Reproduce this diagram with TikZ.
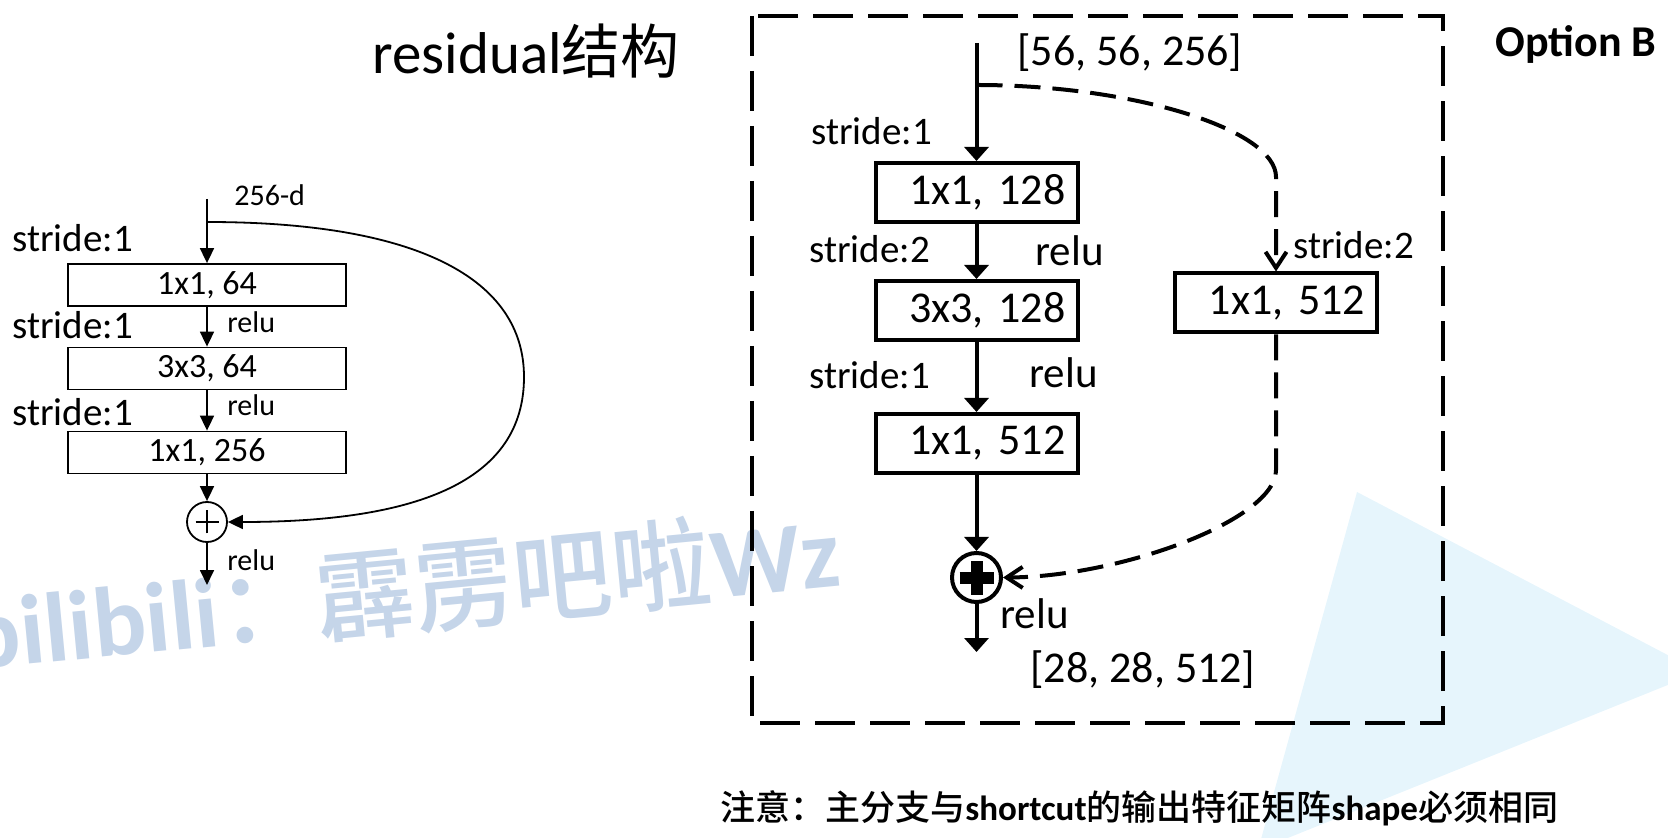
\documentclass[tikz,border=0pt]{standalone}
\usepackage{fontspec}
\setmainfont{Carlito}
\newfontfamily\cjk{Noto Sans CJK SC}
\IfFontExistsTF{Noto Sans CJK SC Medium}{\newfontfamily\cjkm{Noto Sans CJK SC Medium}}{\newfontfamily\cjkm{Noto Sans CJK SC}}
\usetikzlibrary{arrows.meta,positioning}
\definecolor{wmblue}{RGB}{197,213,233}
\definecolor{tricol}{RGB}{230,245,252}
\tikzset{
  convl/.style={draw,line width=0.9pt,minimum width=139pt,minimum height=21pt,inner sep=0pt,font=\fontsize{17}{17}\selectfont},
  convr/.style={draw,line width=2pt,minimum width=101pt,minimum height=29.5pt,text width=89pt,align=right,inner xsep=6pt,inner ysep=0pt,font=\fontsize{22}{22}\selectfont},
  addl/.style={circle,draw,line width=0.9pt,minimum size=20pt,inner sep=0pt,
    path picture={\draw[line width=0.9pt] ([xshift=-5.75pt]path picture bounding box.center) -- ([xshift=5.75pt]path picture bounding box.center)
      ([yshift=-5.75pt]path picture bounding box.center) -- ([yshift=5.75pt]path picture bounding box.center);}},
  addr/.style={circle,draw,line width=2pt,minimum size=24.5pt,inner sep=0pt,
    path picture={\draw[line width=6pt] ([xshift=-8.5pt]path picture bounding box.center) -- ([xshift=8.5pt]path picture bounding box.center)
      ([yshift=-8.5pt]path picture bounding box.center) -- ([yshift=8.5pt]path picture bounding box.center);}},
  arrl/.style={line width=0.9pt,-{Triangle[length=7.5pt,width=7pt]}},
  arrr/.style={line width=2pt,-{Triangle[length=7pt,width=12pt]}},
  shortr/.style={line width=2pt,dash pattern=on 13pt off 6pt,-{Straight Barb[length=8pt,width=10.5pt]}},
  txt/.style={inner sep=0pt,anchor=west},
  smalll/.style={txt,font=\fontsize{15}{15}\selectfont},
  stridel/.style={txt,font=\fontsize{19.5}{19.5}\selectfont},
  bigr/.style={txt,font=\fontsize{22}{22}\selectfont},
  reluR/.style={txt,font=\fontsize{21.5}{21.5}\selectfont}
}
\begin{document}
\begin{tikzpicture}[x=0.5pt,y=-0.5pt]
\useasboundingbox (0,0) rectangle (1668,838);
\fill[tricol] (1357,492) -- (1700,672) -- (1258,850) -- cycle;
\node[inner sep=0pt,anchor=base west,rotate=5.5,text=wmblue,font=\fontsize{49.5}{49.5}\selectfont\bfseries] (wmark) at (-30,670) {bilibili{\cjkm\mdseries ：霹雳吧啦}Wz};
\node[anchor=base west,inner sep=0pt,font=\fontsize{29.5}{29.5}\selectfont] (title) at (372,74) {residual{\cjk 结构}};

\node[convl] (c1) at (207,285) {1x1, 64};
\node[convl] (c2) at (207,368.5) {3x3, 64};
\node[convl] (c3) at (207,452.5) {1x1, 256};
\node[addl] (sum1) at (207,522) {};
\coordinate (inl) at (207,199);
\coordinate (brl) at (207,222);
\coordinate (outl) at (207,585);
\draw[arrl] (inl) -- (c1);
\draw[arrl] (c1) -- (c2);
\draw[arrl] (c2) -- (c3);
\draw[arrl] (c3) -- (sum1);
\draw[arrl] (sum1) -- (outl);
\draw[arrl] (brl) .. controls (420,222) and (524,280) .. (524,377) .. controls (524,480) and (420,522) .. (sum1.east);
\node[smalll] (dim0) at (234,195) {256-d};
\node[stridel] (sl1) at (12,238) {stride:1};
\node[stridel] (sl2) at (12,325) {stride:1};
\node[stridel] (sl3) at (12,412) {stride:1};
\node[smalll] (rl1) at (227,322) {relu};
\node[smalll] (rl2) at (227,405) {relu};
\node[smalll] (rl3) at (227,560) {relu};

\draw[line width=2pt,dash pattern=on 20pt off 7.5pt] (752,16) rectangle (1443,723);
\node[convr] (r1) at (976.5,192.5) {1x1, 128};
\node[convr] (r2) at (976.5,310.5) {3x3, 128};
\node[convr] (r3) at (976.5,443.5) {1x1, 512};
\node[convr] (r4) at (1276,303) {1x1, 512};
\node[addr] (sum2) at (976.5,577.5) {};
\coordinate (inr) at (976.5,43);
\coordinate (brr) at (976.5,85);
\coordinate (outr) at (976.5,652);
\coordinate (bend1) at (1276,177);
\coordinate (bend2) at (1276,470);
\draw[arrr] (inr) -- (r1);
\draw[arrr] (r1) -- (r2);
\draw[arrr] (r2) -- (r3);
\draw[arrr] (r3) -- (sum2);
\draw[arrr] (sum2) -- (outr);
\draw[shortr] (brr) .. controls (1135,85) and (1276,130) .. (bend1) -- (r4);
\draw[shortr] (r4) -- (bend2) .. controls (1276,520) and (1120,577) .. (sum2.east);
\node[bigr] (dim1) at (1017,53) {[56, 56, 256]};
\node[bigr] (dim2) at (1030,670) {[28, 28, 512]};
\node[stridel] (sr1) at (811,131) {stride:1};
\node[stridel] (sr2) at (809,249) {stride:2};
\node[stridel] (sr3) at (809,375) {stride:1};
\node[stridel] (sr4) at (1293,245) {stride:2};
\node[reluR] (rr1) at (1035,251) {relu};
\node[reluR] (rr2) at (1029,373) {relu};
\node[reluR] (rr3) at (1000,614) {relu};
\node[txt,font=\fontsize{22}{22}\selectfont\bfseries] (opt) at (1495,44) {Option B};
\node[txt,font=\fontsize{17.5}{17.5}\selectfont] (note) at (720,808) {\cjkm 注意：主分支与{\rmfamily\bfseries shortcut}的输出特征矩阵{\rmfamily\bfseries shape}必须相同};
\end{tikzpicture}
\end{document}
